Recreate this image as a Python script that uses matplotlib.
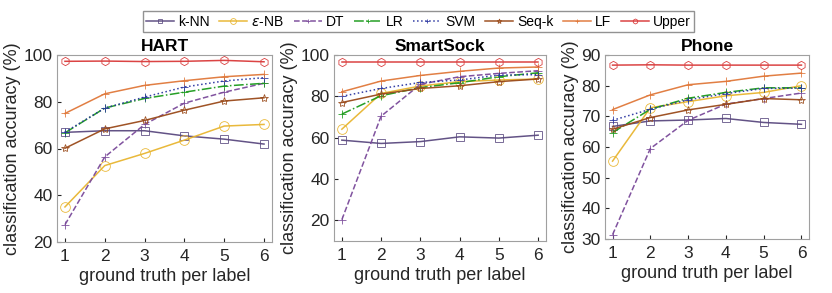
import numpy as np
import matplotlib.pyplot as plt

plt.rcParams['font.family'] = ['Liberation Sans', 'DejaVu Sans']

x = [1, 2, 3, 4, 5, 6]
methods = ['k-NN', r'$\epsilon$-NB', 'DT', 'LR', 'SVM', 'Seq-k', 'LF', 'Upper']

hart = {
    'k-NN':  [66.9, 67.6, 67.6, 65.4, 64.0, 61.9],
    'eNB':   [35.0, 52.7, 57.9, 63.6, 69.6, 70.3],
    'DT':    [27.4, 56.4, 70.3, 79.4, 84.1, 87.9],
    'LR':    [66.7, 77.3, 81.4, 84.1, 86.7, 87.9],
    'SVM':   [67.0, 77.3, 82.0, 86.3, 88.9, 90.3],
    'Seq-k': [60.1, 68.4, 72.0, 76.4, 80.3, 81.7],
    'LF':    [75.0, 83.4, 87.0, 89.0, 90.7, 91.7],
    'Upper': [97.3, 97.4, 97.2, 97.3, 97.7, 97.1],
}
smartsock = {
    'k-NN':  [58.8, 57.2, 58.1, 60.4, 59.8, 61.2],
    'eNB':   [64.1, 81.4, 85.0, 87.1, 87.9, 88.4],
    'DT':    [20.3, 70.4, 85.8, 89.5, 91.1, 92.4],
    'LR':    [71.4, 80.3, 84.2, 86.6, 89.5, 91.4],
    'SVM':   [80.0, 83.8, 86.7, 87.9, 90.3, 90.5],
    'Seq-k': [77.0, 81.1, 83.8, 85.1, 87.1, 88.4],
    'LF':    [82.2, 87.4, 90.1, 92.1, 93.7, 94.2],
    'Upper': [96.8, 96.8, 96.8, 96.8, 96.8, 96.8],
}
phone = {
    'k-NN':  [66.7, 68.5, 68.8, 69.3, 68.0, 67.4],
    'eNB':   [55.4, 72.8, 74.8, 76.7, 77.8, 80.0],
    'DT':    [31.4, 59.5, 68.7, 74.0, 75.8, 77.6],
    'LR':    [64.7, 72.3, 75.9, 77.8, 79.3, 79.3],
    'SVM':   [68.7, 72.3, 75.4, 77.4, 79.1, 79.2],
    'Seq-k': [65.8, 69.6, 72.1, 73.9, 75.8, 75.4],
    'LF':    [72.2, 77.0, 80.3, 81.4, 83.1, 84.1],
    'Upper': [86.7, 86.8, 86.7, 86.7, 86.7, 86.7],
}

keys = ['k-NN', 'eNB', 'DT', 'LR', 'SVM', 'Seq-k', 'LF', 'Upper']
styles = {
    'k-NN':  dict(color='#5b4a80', ls='-', marker='s'),
    'eNB':   dict(color='#e8b530', ls='-', marker='o'),
    'DT':    dict(color='#7a4a9a', ls='--', marker='+'),
    'LR':    dict(color='#1a9a1a', ls='-.', marker='+'),
    'SVM':   dict(color='#2a35a0', ls=':', marker='+'),
    'Seq-k': dict(color='#9a4a1a', ls='-', marker='*'),
    'LF':    dict(color='#e0783a', ls='-', marker='+'),
    'Upper': dict(color='#d93a3a', ls='-', marker='h'),
}
hollow = ['k-NN', 'eNB', 'Seq-k', 'Upper']

fig = plt.figure(figsize=(8.32, 2.93), dpi=100)
panels = [
    ('HART', hart, [57, 55, 272, 242], (20, 100), [20, 40, 60, 80, 100]),
    ('SmartSock', smartsock, [334, 55, 546, 241], (10, 100), [20, 40, 60, 80, 100]),
    ('Phone', phone, [605, 55, 809, 239], (30, 90), [30, 40, 50, 60, 70, 80, 90]),
]
W, H = 832, 293
for title, data, (l, t, r, b), ylim, yt in panels:
    ax = fig.add_axes([l / W, 1 - b / H, (r - l) / W, (b - t) / H])
    lines = []
    for k in keys:
        s = styles[k]
        ln, = ax.plot(x, data[k], color=s['color'], linestyle=s['ls'], marker=s['marker'],
                      markersize=6 if k != 'eNB' else 7,
                      markerfacecolor='none' if k in hollow else s['color'],
                      markeredgewidth=0.6, linewidth=1.1, alpha=0.95)
        lines.append(ln)
    ax.set_xlim(0.8, 6.2)
    ax.set_ylim(*ylim)
    ax.set_xticks(x)
    ax.set_yticks(yt)
    ax.tick_params(direction='in', labelsize=12.5, colors='#262626', length=3, pad=3)
    ax.tick_params(axis='x', pad=5)
    for sp in ax.spines.values():
        sp.set_color('#a0a0a0')
    ax.set_title(title, fontsize=12.5, fontweight='bold', pad=3)
    ax.set_xlabel('ground truth per label', fontsize=13, color='#262626', labelpad=3)
    ax.set_ylabel('classification accuracy (%)', fontsize=13, color='#262626', labelpad=2)

fig.legend(lines, methods, loc='upper center', bbox_to_anchor=(0.503, 0.985), ncol=8,
           fontsize=10, frameon=True, fancybox=False, edgecolor='#777777',
           handlelength=2.0, columnspacing=0.7, handletextpad=0.3, borderpad=0.25,
           markerscale=0.6)
fig.savefig('out.png', dpi=100)
